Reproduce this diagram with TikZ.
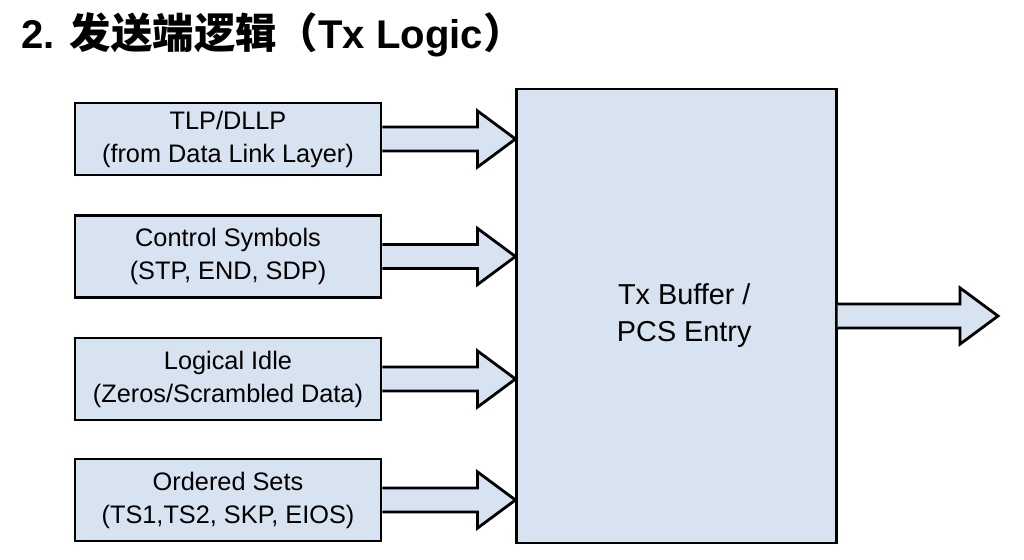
\documentclass[tikz,border=0pt]{standalone}
\usepackage{fontspec}
\setmainfont{Liberation Sans}
\newfontfamily\cjk{Noto Sans CJK SC}
\usepackage{xcolor}
\usetikzlibrary{calc}
\definecolor{boxblue}{HTML}{D7E3F0}

\tikzset{
    inbox/.style={draw=black, line width=2pt, fill=boxblue, inner sep=0pt,
        minimum width=7.65cm, minimum height=2.05cm, align=center,
        font=\fontsize{18}{23.5}\selectfont},
    bufbox/.style={draw=black, line width=2pt, fill=boxblue, inner sep=0pt,
        minimum width=7.98cm, minimum height=11.35cm, align=center,
        font=\fontsize{20.5}{26.3}\selectfont},
    fatarrow/.style={draw=black, line width=2pt, fill=boxblue, line join=miter,
        to path={let \p1=(\tikztostart), \p2=(\tikztotarget) in
            (\x1,\y1+8.5pt) -- (\x2-27pt,\y1+8.5pt) -- (\x2-27pt,\y1+20pt)
            -- (\x2,\y1) -- (\x2-27pt,\y1-20pt) -- (\x2-27pt,\y1-8.5pt)
            -- (\x1,\y1-8.5pt)}}
}

\begin{document}
\begin{tikzpicture}[x=0.025cm, y=-0.025cm]
    \useasboundingbox[fill=white] (0,0) rectangle (1024,559);

    % 1. Title
    \node[anchor=base west, inner sep=0pt, font=\bfseries\fontsize{28.5}{34}\selectfont] (title) at (21,48)
        {2. {\cjk\fontsize{29.5}{34}\selectfont 发送端逻辑（}Tx Logic{\cjk\fontsize{29.5}{34}\selectfont ）}};

    % 2. Input blocks on the left
    \node[inbox, minimum height=1.8cm] (tlp) at (228,139) {TLP/DLLP\\(from Data Link Layer)};
    \node[inbox] (ctrl) at (228,256.5) {Control Symbols\\(STP, END, SDP)};
    \node[inbox] (idle) at (228,379) {Logical Idle\\(Zeros/Scrambled Data)};
    \node[inbox] (oset) at (228,500) {Ordered Sets\\(TS1,TS2, SKP, EIOS)};

    % 3. Tx buffer
    \node[bufbox] (buf) at (676.5,316) {\hspace*{11pt}Tx Buffer /\\\hspace*{11pt}PCS Entry};

    % 4. Block arrows into the buffer
    \foreach \src in {tlp, ctrl, idle, oset} {
        \draw[fatarrow] (\src.east) to (\src.east -| buf.west);
    }

    % 5. Output arrow
    \coordinate (out) at (998,316);
    \draw[fatarrow] (buf.east) to (out);
\end{tikzpicture}
\end{document}
